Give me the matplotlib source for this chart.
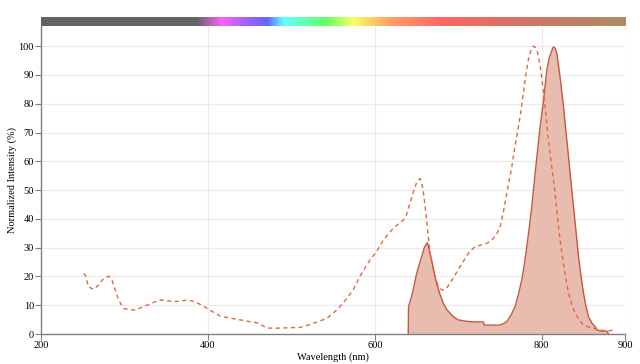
import numpy as np
import matplotlib
matplotlib.use("Agg")
import matplotlib.pyplot as plt
from matplotlib.colors import LinearSegmentedColormap

# --- data ---
ex_wl = [251, 253, 257, 263, 269, 275, 281, 285, 289, 293, 299, 305, 313, 320,
         327, 335, 343, 351, 359, 367, 375, 381, 387, 393, 399, 407, 415, 427,
         439, 450, 459, 465, 471, 480, 490, 500, 510, 518, 526, 534, 542, 550,
         558, 566, 574, 582, 588, 594, 602, 610, 616, 622, 628, 634, 638, 642,
         645, 648, 651, 654, 656, 658, 660, 662, 664, 666, 669, 672, 676, 680,
         685, 690, 696, 702, 708, 714, 720, 728, 734, 740, 745, 750, 754, 758,
         764, 768, 772, 775, 778, 781, 784, 787, 789, 791, 794, 797, 800, 804,
         808, 812, 816, 820, 823, 826, 829, 832, 836, 840, 845, 850, 856, 862,
         868, 874, 880, 885, 889]
ex_val = [21.0, 20.5, 16.4, 15.5, 17.0, 19.3, 20.1, 18.8, 15.3, 11.8, 8.9, 8.5,
          8.3, 9.2, 10.0, 11.0, 11.8, 11.6, 11.2, 11.5, 11.8, 11.5, 10.9, 9.9,
          8.9, 7.5, 6.2, 5.5, 4.9, 4.3, 3.9, 3.0, 2.1, 2.0, 2.1, 2.2, 2.3, 2.9,
          3.7, 4.5, 5.4, 7.2, 9.5, 12.2, 15.3, 19.9, 22.8, 25.7, 28.6, 32.6, 34.7,
          36.7, 38.2, 39.6, 41.5, 45.4, 48.3, 51.1, 53.2, 54.0, 52.8, 49.5, 45.0,
          39.6, 34.0, 28.5, 23.5, 19.9, 16.8, 15.3, 15.6, 17.6, 20.5, 23.4, 26.2,
          28.8, 30.3, 31.0, 31.5, 32.6, 34.2, 37.2, 42.5, 48.8, 58.0, 65.5, 72.0,
          77.5, 84.0, 90.5, 95.5, 98.5, 99.8, 100.0, 98.8, 95.0, 89.0, 79.0, 67.0,
          58.0, 48.8, 37.2, 30.2, 24.5, 19.0, 14.1, 10.2, 7.2, 4.8, 3.1, 2.4, 2.0,
          1.5, 1.2, 1.1, 1.3, 1.0]

em_wl = [640, 640.3, 644, 647, 650, 653, 656, 659, 661, 663, 665, 668, 671, 674,
         678, 682, 686, 690, 695, 700, 710, 720, 730, 731, 740, 750, 754, 758,
         763, 768, 772, 776, 779, 782, 785, 788, 792, 795, 798, 802, 806, 809,
         812, 814, 816, 818, 822, 826, 829, 832, 835, 838, 841, 844, 847, 850,
         853, 856, 860, 864, 866, 872, 878, 880]
em_val = [0, 9.5, 13.0, 16.8, 21.0, 24.0, 26.8, 29.8, 31.0, 31.7, 29.5, 25.7,
          21.5, 17.6, 13.8, 10.7, 8.6, 7.2, 5.8, 4.9, 4.4, 4.2, 4.2, 3.1, 3.1,
          3.1, 3.6, 4.3, 6.5, 9.5, 13.8, 18.8, 24.0, 30.3, 37.0, 44.2, 55.8, 64.0,
          72.0, 81.0, 91.7, 96.0, 98.5, 99.8, 99.3, 97.5, 89.0, 79.0, 70.0, 61.6,
          52.5, 44.2, 35.5, 26.8, 20.0, 14.1, 9.5, 6.0, 3.8, 2.5, 1.4, 1.0, 1.0, 0]

bar_wl = [200, 385, 416, 445, 470, 490, 542, 574, 618, 682, 800, 900]
bar_colors = ['#646464', '#646464', '#f864f8', '#a064f8', '#6464ff', '#64ffff',
              '#64ff64', '#f8ff64', '#ffa064', '#ff6464', '#c87864', '#b08a64']

x_ticks = [200, 400, 600, 800, 900]
y_ticks = list(range(0, 101, 10))

plt.rcParams['font.family'] = ['Liberation Serif', 'DejaVu Serif']

fig = plt.figure(figsize=(6.4, 3.64), dpi=100)
ax = fig.add_axes([0.064, 0.0824, 0.913, 0.846])
cax = fig.add_axes([0.064, 0.9286, 0.913, 0.025])

# colour bar of the visible spectrum
pos = [(w - 200) / 700 for w in bar_wl]
cmap = LinearSegmentedColormap.from_list('spec', list(zip(pos, bar_colors)))
cax.imshow(np.linspace(0, 1, 700)[None, :], aspect='auto', cmap=cmap,
           extent=[200, 900, 0, 1])
cax.set_axis_off()

# spectra
ax.fill_between(em_wl, em_val, color='#e8bcae', lw=0, zorder=2)
ax.plot(em_wl, em_val, color='#c8573d', lw=1.0, zorder=3)
ax.plot(ex_wl, ex_val, color='#e0683e', lw=1.0, ls=(0, (3, 2.5)), zorder=4)

ax.set_xlim(200, 900)
ax.set_ylim(0, 107)
ax.set_xticks(x_ticks)
ax.set_yticks(y_ticks)
ax.grid(True, color='#ebebeb', lw=0.8, zorder=0)
ax.set_axisbelow(True)
for s in ['top', 'right']:
    ax.spines[s].set_visible(False)
for s in ['left', 'bottom']:
    ax.spines[s].set_color('#808080')
    ax.spines[s].set_linewidth(1.0)
ax.tick_params(length=4, width=0.8, color='#808080', labelsize=7.5, pad=1)
ax.set_xlabel('Wavelength (nm)', fontsize=7.5, labelpad=2)
ax.set_ylabel('Normalized Intensity (%)', fontsize=7.5, labelpad=1)

fig.savefig('out.png', dpi=100)
